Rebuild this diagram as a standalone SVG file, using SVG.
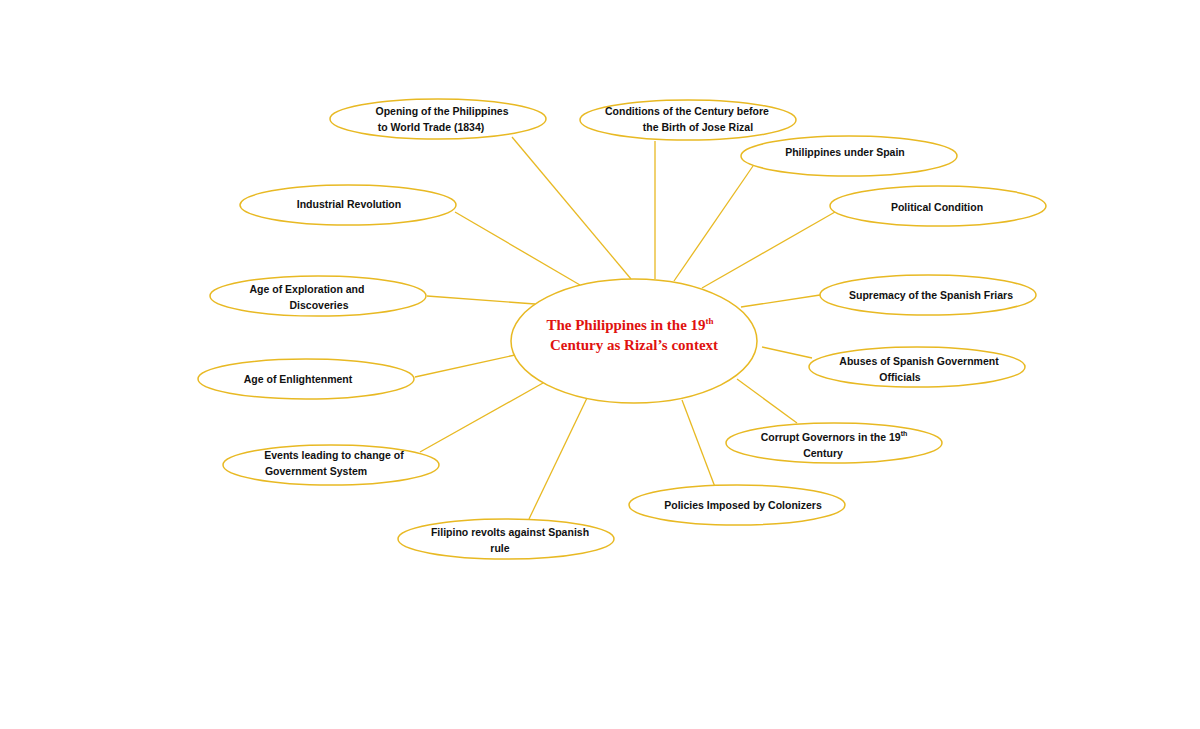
<svg xmlns="http://www.w3.org/2000/svg" width="1200" height="729" viewBox="0 0 1200 729">
<style>
.n{fill:#fff;stroke:#e8b923;stroke-width:1.5}
.c line{stroke:#e8b923;stroke-width:1.3}
.t{font-family:"Liberation Sans",Arial,sans-serif;font-weight:bold;font-size:10.5px;fill:#111;text-anchor:middle}
.h{font-family:"Liberation Serif","Times New Roman",serif;font-weight:bold;font-size:15px;fill:#e0120f;text-anchor:middle}
</style>
<rect width="1200" height="729" fill="#fff"/>
<g class="c">
<line x1="512" y1="137" x2="631" y2="279"/>
<line x1="655" y1="141" x2="655" y2="279"/>
<line x1="753" y1="166" x2="674" y2="281"/>
<line x1="455" y1="212" x2="580" y2="285"/>
<line x1="835" y1="212" x2="702" y2="288"/>
<line x1="427" y1="296" x2="535" y2="304"/>
<line x1="820" y1="295" x2="741" y2="307"/>
<line x1="762" y1="347" x2="812" y2="358"/>
<line x1="415" y1="377" x2="515" y2="355"/>
<line x1="737" y1="379" x2="797" y2="423"/>
<line x1="420" y1="452" x2="543" y2="383"/>
<line x1="682" y1="400" x2="715" y2="487"/>
<line x1="587" y1="398" x2="529" y2="519"/>
</g>
<g id="center"><ellipse class="n" cx="634" cy="341" rx="123" ry="62"/>
<text class="h" x="630" y="330">The Philippines in the 19<tspan font-size="9" dy="-6">th</tspan></text>
<text class="h" x="634" y="350">Century as Rizal’s context</text></g>
<g id="n1"><ellipse class="n" cx="438" cy="119" rx="108" ry="20"/><text class="t" x="442" y="115">Opening of the Philippines</text><text class="t" x="431" y="131">to World Trade (1834)</text></g>
<g id="n2"><ellipse class="n" cx="688" cy="120" rx="108" ry="20"/><text class="t" x="687" y="115">Conditions of the Century before</text><text class="t" x="698" y="131">the Birth of Jose Rizal</text></g>
<g id="n3"><ellipse class="n" cx="849" cy="156" rx="108" ry="20"/><text class="t" x="845" y="156">Philippines under Spain</text></g>
<g id="n4"><ellipse class="n" cx="348" cy="205" rx="108" ry="20"/><text class="t" x="349" y="208">Industrial Revolution</text></g>
<g id="n5"><ellipse class="n" cx="938" cy="206" rx="108" ry="20"/><text class="t" x="937" y="211">Political Condition</text></g>
<g id="n6"><ellipse class="n" cx="318" cy="296" rx="108" ry="20"/><text class="t" x="307" y="293">Age of Exploration and</text><text class="t" x="319" y="309">Discoveries</text></g>
<g id="n7"><ellipse class="n" cx="928" cy="295" rx="108" ry="20"/><text class="t" x="931" y="299">Supremacy of the Spanish Friars</text></g>
<g id="n8"><ellipse class="n" cx="917" cy="367" rx="108" ry="20"/><text class="t" x="919" y="365">Abuses of Spanish Government</text><text class="t" x="900" y="381">Officials</text></g>
<g id="n9"><ellipse class="n" cx="306" cy="379" rx="108" ry="20"/><text class="t" x="298" y="383">Age of Enlightenment</text></g>
<g id="n10"><ellipse class="n" cx="834" cy="443" rx="108" ry="20"/><text class="t" x="834" y="441">Corrupt Governors in the 19<tspan font-size="7" dy="-5">th</tspan></text><text class="t" x="823" y="457">Century</text></g>
<g id="n11"><ellipse class="n" cx="331" cy="465" rx="108" ry="20"/><text class="t" x="334" y="459">Events leading to change of</text><text class="t" x="316" y="475">Government System</text></g>
<g id="n12"><ellipse class="n" cx="737" cy="505" rx="108" ry="20"/><text class="t" x="743" y="509">Policies Imposed by Colonizers</text></g>
<g id="n13"><ellipse class="n" cx="506" cy="539" rx="108" ry="20"/><text class="t" x="510" y="536">Filipino revolts against Spanish</text><text class="t" x="500" y="552">rule</text></g>
</svg>
